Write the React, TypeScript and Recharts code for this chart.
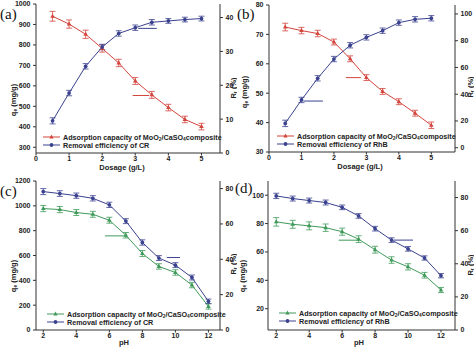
import React from 'react';
import {
  ComposedChart,
  Line,
  XAxis,
  YAxis,
  ErrorBar,
  ReferenceLine,
  Legend,
} from 'recharts';

// (a) CR vs dosage
const dosage = [0.5, 1, 1.5, 2, 2.5, 3, 3.5, 4, 4.5, 5];
const crDoseCapacity = [940, 902, 852, 783, 712, 624, 556, 494, 436, 401];
const crDoseCapacityErr = [24, 20, 20, 18, 18, 17, 17, 16, 16, 16];
const crDoseRemoval = [9.5, 17.7, 25.6, 31.3, 35.3, 37.0, 38.6, 39.0, 39.4, 39.7];
const crDoseRemovalErr = [0.9, 0.8, 0.8, 0.8, 0.8, 0.8, 0.8, 0.7, 0.7, 0.7];

// (b) RhB vs dosage
const rhbDoseCapacity = [72.5, 71.3, 70.3, 67.4, 61.7, 55.3, 50.6, 47.1, 43.2, 39.1];
const rhbDoseCapacityErr = [1.3, 1.1, 1.1, 1.0, 1.0, 1.0, 1.0, 1.0, 1.0, 1.1];
const rhbDoseRemoval = [18.2, 35.7, 51.9, 66.3, 76.6, 82.5, 87.5, 93.5, 96.0, 96.8];
const rhbDoseRemovalErr = [2.4, 2.0, 2.0, 2.0, 2.0, 2.0, 2.0, 2.0, 2.0, 2.0];

// (c) CR vs pH
const pH = [2, 3, 4, 5, 6, 7, 8, 9, 10, 11, 12];
const crPhCapacity = [978, 970, 946, 932, 884, 763, 616, 512, 463, 362, 190];
const crPhCapacityErr = [25, 25, 24, 24, 24, 22, 24, 22, 22, 22, 22];
const crPhRemoval = [78.3, 77.2, 76.0, 74.5, 70.8, 61.6, 49.5, 40.7, 36.7, 29.7, 16.2];
const crPhRemovalErr = [1.7, 1.6, 1.5, 1.5, 1.5, 1.4, 1.5, 1.4, 1.4, 1.4, 1.3];

// (d) RhB vs pH
const rhbPhCapacity = [81.2, 79.5, 78.4, 77.1, 74.3, 69.0, 61.6, 54.3, 49.5, 43.6, 33.2];
const rhbPhCapacityErr = [3.0, 2.8, 2.8, 2.6, 2.5, 2.4, 2.4, 2.3, 2.2, 2.0, 1.8];
const rhbPhRemoval = [81.0, 79.4, 78.2, 77.0, 74.1, 68.9, 61.2, 54.3, 49.0, 43.5, 32.8];
const rhbPhRemovalErr = [1.6, 1.5, 1.5, 1.5, 1.4, 1.4, 1.4, 1.4, 1.4, 1.3, 1.3];

const RED = '#d4453e';
const BLUE = '#3b428f';
const GREEN = '#3f9a5a';
const AXIS = '#333';
const FONT = '"Liberation Sans", Arial, sans-serif';

const rows = (xs: number[], q: number[], qe: number[], r: number[], re: number[]) =>
  xs.map((x, i) => ({ x, q: q[i], qErr: qe[i], r: r[i], rErr: re[i] }));

const triangle = (color: string) => (p: any) => {
  if (p.cx == null || p.cy == null) return <g key={p.index} />;
  const { cx, cy } = p;
  return (
    <path
      key={p.index}
      d={`M${cx},${cy - 2.6}L${cx + 2.3},${cy + 1.5}L${cx - 2.3},${cy + 1.5}Z`}
      fill={color}
    />
  );
};

const circle = (color: string) => (p: any) => {
  if (p.cx == null || p.cy == null) return <g key={p.index} />;
  return <circle key={p.index} cx={p.cx} cy={p.cy} r={1.9} fill={color} />;
};

const YTitle = ({ cx, cy, main, sub, unit }: any) => (
  <text
    x={cx}
    y={cy}
    transform={`rotate(-90, ${cx}, ${cy})`}
    textAnchor="middle"
    dominantBaseline="central"
    fontFamily={FONT}
    fontWeight="bold"
    fontSize={7.5}
    fill="#222"
  >
    {main}
    <tspan dy={2} fontSize={5}>
      {sub}
    </tspan>
    <tspan dy={-2}>{unit}</tspan>
  </text>
);

const XTitle = ({ cx, cy, text }: any) => (
  <text
    x={cx}
    y={cy}
    textAnchor="middle"
    dominantBaseline="central"
    fontFamily={FONT}
    fontWeight="bold"
    fontSize={7.5}
    fill="#222"
  >
    {text}
  </text>
);

const LegendBox = ({ qColor, rLabel }: any) => (
  <svg width={200} height={18} style={{ display: 'block', overflow: 'visible' }}>
    <line x1={0} y1={4} x2={17} y2={4} stroke={qColor} strokeWidth={1} />
    <path d="M8.5,1.6L10.6,5.4L6.4,5.4Z" fill={qColor} />
    <text x={20} y={4} dominantBaseline="central" fontFamily={FONT} fontWeight="bold" fontSize={7.2} fill="#222">
      Adsorption capacity of MoO
      <tspan dy={1.5} fontSize={4.8}>2</tspan>
      <tspan dy={-1.5}>/CaSO</tspan>
      <tspan dy={1.5} fontSize={4.8}>4</tspan>
      <tspan dy={-1.5}>composite</tspan>
    </text>
    <line x1={0} y1={12} x2={17} y2={12} stroke={BLUE} strokeWidth={1} />
    <circle cx={8.5} cy={12} r={1.9} fill={BLUE} />
    <text x={20} y={12} dominantBaseline="central" fontFamily={FONT} fontWeight="bold" fontSize={7.2} fill="#222">
      {rLabel}
    </text>
  </svg>
);

type PanelProps = {
  width: number;
  height: number;
  top: number;
  leftW: number;
  rightW: number;
  xH: number;
  data: any[];
  xDomain: number[];
  xTicks: number[];
  leftDomain: number[];
  leftTicks: number[];
  leftTickMargin?: number;
  rightDomain: number[];
  rightTicks: number[];
  qColor: string;
  qSeg: number[];
  rSeg: number[];
  xTitle: string;
  rLabel: string;
  qTitleX: number;
  qTitleY: number;
  rTitleY: number;
  xTitleX: number;
  xTitleY: number;
  legendX: number;
  legendY: number;
};

const tickStyle = { fontSize: 7, fontWeight: 'bold', fill: '#222', fontFamily: FONT } as any;

function Panel(p: PanelProps) {
  return (
    <ComposedChart
      width={p.width}
      height={p.height}
      data={p.data}
      margin={{ top: p.top, right: 0, bottom: 0, left: 0 }}
    >
      <XAxis
        dataKey="x"
        type="number"
        domain={p.xDomain}
        ticks={p.xTicks}
        allowDataOverflow
        height={p.xH}
        tick={tickStyle}
        tickSize={2.5}
        tickMargin={0.5}
        stroke={AXIS}
        interval={0}
        label={<XTitle cx={p.xTitleX} cy={p.xTitleY} text={p.xTitle} />}
      />
      <XAxis
        xAxisId="top"
        orientation="top"
        dataKey="x"
        type="number"
        domain={p.xDomain}
        allowDataOverflow
        height={0}
        tick={false}
        tickLine={false}
        stroke={AXIS}
      />
      <YAxis
        yAxisId="left"
        type="number"
        domain={p.leftDomain}
        ticks={p.leftTicks}
        allowDataOverflow
        width={p.leftW}
        tick={tickStyle}
        tickSize={3}
        tickMargin={p.leftTickMargin ?? 2.5}
        stroke={AXIS}
        interval={0}
        label={<YTitle cx={p.qTitleX} cy={p.qTitleY} main="q" sub="e" unit=" (mg/g)" />}
      />
      <YAxis
        yAxisId="right"
        orientation="right"
        type="number"
        domain={p.rightDomain}
        ticks={p.rightTicks}
        allowDataOverflow
        width={p.rightW}
        tick={tickStyle}
        tickSize={3}
        tickMargin={2.5}
        stroke={AXIS}
        interval={0}
        label={<YTitle cx={233} cy={p.rTitleY} main="R" sub="r" unit=" (%)" />}
      />
      <Line
        yAxisId="left"
        dataKey="q"
        stroke={p.qColor}
        strokeWidth={1}
        dot={triangle(p.qColor)}
        activeDot={false}
        isAnimationActive={false}
      >
        <ErrorBar dataKey="qErr" width={3} stroke={p.qColor} strokeWidth={0.8} direction="y" />
      </Line>
      <Line
        yAxisId="right"
        dataKey="r"
        stroke={BLUE}
        strokeWidth={1}
        dot={circle(BLUE)}
        activeDot={false}
        isAnimationActive={false}
      >
        <ErrorBar dataKey="rErr" width={3} stroke={BLUE} strokeWidth={0.8} direction="y" />
      </Line>
      <ReferenceLine
        yAxisId="left"
        segment={[
          { x: p.qSeg[0], y: p.qSeg[2] },
          { x: p.qSeg[1], y: p.qSeg[2] },
        ]}
        stroke={p.qColor}
        strokeWidth={1}
      />
      <ReferenceLine
        yAxisId="right"
        segment={[
          { x: p.rSeg[0], y: p.rSeg[2] },
          { x: p.rSeg[1], y: p.rSeg[2] },
        ]}
        stroke={BLUE}
        strokeWidth={1}
      />
      <Legend
        layout="vertical"
        align="center"
        verticalAlign="middle"
        wrapperStyle={{ left: p.legendX, top: p.legendY, width: 200, height: 18 }}
        content={() => <LegendBox qColor={p.qColor} rLabel={p.rLabel} />}
      />
    </ComposedChart>
  );
}

const letterStyle = (left: number, top: number): React.CSSProperties => ({
  position: 'absolute',
  left,
  top,
  fontFamily: '"Liberation Serif", "DejaVu Serif", serif',
  fontSize: 15,
  lineHeight: '16px',
  color: '#111',
});

export default function App() {
  return (
    <div style={{ position: 'absolute', left: 0, top: 0, width: 474, height: 351, background: '#fff', overflow: 'hidden' }}>
      <div style={{ position: 'absolute', left: 0, top: 0 }}>
        <Panel
          width={237}
          height={176}
          top={4}
          leftW={36}
          rightW={17}
          xH={23}
          data={rows(dosage, crDoseCapacity, crDoseCapacityErr, crDoseRemoval, crDoseRemovalErr)}
          xDomain={[0, 5.56]}
          xTicks={[0, 1, 2, 3, 4, 5]}
          leftDomain={[272, 1000]}
          leftTicks={[300, 400, 500, 600, 700, 800, 900, 1000]}
          rightDomain={[0, 44]}
          rightTicks={[0, 10, 20, 30, 40]}
          qColor={RED}
          qSeg={[2.92, 3.42, 553]}
          rSeg={[3.09, 3.65, 36.8]}
          xTitle="Dosage (g/L)"
          rLabel="Removal efficiency of CR"
          qTitleX={13}
          qTitleY={100}
          rTitleY={88}
          xTitleX={122}
          xTitleY={167}
          legendX={43}
          legendY={133}
        />
      </div>
      <div style={{ position: 'absolute', left: 237, top: 0 }}>
        <Panel
          width={237}
          height={176}
          top={5}
          leftW={32}
          rightW={19}
          xH={24}
          data={rows(dosage, rhbDoseCapacity, rhbDoseCapacityErr, rhbDoseRemoval, rhbDoseRemovalErr)}
          xDomain={[0, 5.73]}
          xTicks={[0, 1, 2, 3, 4, 5]}
          leftDomain={[30, 80]}
          leftTicks={[30, 40, 50, 60, 70, 80]}
          rightDomain={[-3.2, 106.7]}
          rightTicks={[0, 20, 40, 60, 80, 100]}
          qColor={RED}
          qSeg={[2.37, 2.83, 55.3]}
          rSeg={[1.06, 1.66, 34.9]}
          xTitle="Dosage (g/L)"
          rLabel="Removal efficiency of RhB"
          qTitleX={7}
          qTitleY={92}
          rTitleY={87}
          xTitleX={123}
          xTitleY={166.5}
          legendX={40}
          legendY={132}
        />
      </div>
      <div style={{ position: 'absolute', left: 0, top: 176 }}>
        <Panel
          width={237}
          height={175}
          top={5}
          leftW={36}
          rightW={17}
          xH={21}
          data={rows(pH, crPhCapacity, crPhCapacityErr, crPhRemoval, crPhRemovalErr)}
          xDomain={[1.56, 12.7]}
          xTicks={[2, 4, 6, 8, 10, 12]}
          leftDomain={[0, 1200]}
          leftTicks={[0, 200, 400, 600, 800, 1000, 1200]}
          rightDomain={[0, 84.3]}
          rightTicks={[0, 20, 40, 60, 80]}
          qColor={GREEN}
          qSeg={[5.74, 6.95, 758]}
          rSeg={[9.48, 10.28, 41.0]}
          xTitle="pH"
          rLabel="Removal efficiency of CR"
          qTitleX={13}
          qTitleY={100}
          rTitleY={88}
          xTitleX={124}
          xTitleY={166}
          legendX={47}
          legendY={134}
        />
      </div>
      <div style={{ position: 'absolute', left: 237, top: 176 }}>
        <Panel
          width={237}
          height={175}
          top={5}
          leftW={31}
          rightW={19}
          xH={21}
          data={rows(pH, rhbPhCapacity, rhbPhCapacityErr, rhbPhRemoval, rhbPhRemovalErr)}
          xDomain={[1.5, 12.85]}
          xTicks={[2, 4, 6, 8, 10, 12]}
          leftDomain={[5, 110]}
          leftTicks={[20, 40, 60, 80, 100]}
          leftTickMargin={1}
          rightDomain={[0, 90]}
          rightTicks={[0, 20, 40, 60, 80]}
          qColor={GREEN}
          qSeg={[5.79, 7.0, 68.3]}
          rSeg={[9.13, 10.3, 54.3]}
          xTitle="pH"
          rLabel="Removal efficiency of RhB"
          qTitleX={5}
          qTitleY={100}
          rTitleY={89}
          xTitleX={122}
          xTitleY={166}
          legendX={42}
          legendY={133}
        />
      </div>
      <div style={letterStyle(0, 6)}>(a)</div>
      <div style={letterStyle(237, 6)}>(b)</div>
      <div style={letterStyle(0, 183)}>(c)</div>
      <div style={letterStyle(235, 180)}>(d)</div>
    </div>
  );
}
